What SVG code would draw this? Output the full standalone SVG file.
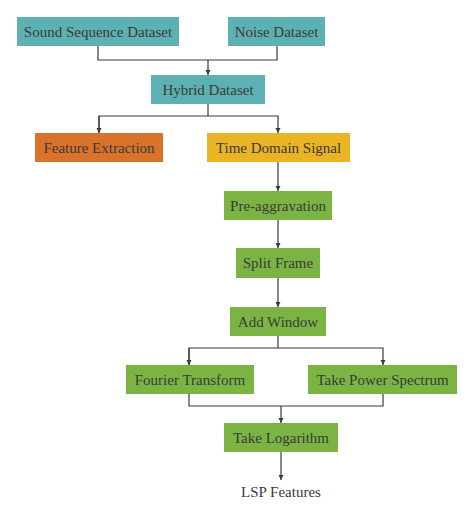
<svg xmlns="http://www.w3.org/2000/svg" width="474" height="519" viewBox="0 0 474 519">
<style>
.t{font-family:"Liberation Serif","Times New Roman",serif;font-size:15px;fill:#3a3a3a;text-anchor:middle}
.teal{fill:#5DB1B2}.orange{fill:#D9732C}.yellow{fill:#EBB425}.green{fill:#7CB444}
.c{fill:none;stroke:#3a3a3a;stroke-width:1.2}
</style>
<defs>
<marker id="a" markerWidth="6" markerHeight="6" refX="5" refY="3" orient="auto" markerUnits="userSpaceOnUse">
<path d="M0,0.5 L5,3 L0,5.5 Z" fill="#3a3a3a"/>
</marker>
</defs>
<rect width="474" height="519" fill="#fff"/>
<g id="connectors">
<path class="c" d="M98,46 V60 H277 V46"/>
<path class="c" d="M208,60 V75" marker-end="url(#a)"/>
<path class="c" d="M208,104 V116"/>
<path class="c" d="M99,133 V116 H278 V133" marker-end="url(#a)"/>
<path class="c" d="M99,116 V133" marker-end="url(#a)"/>
<path class="c" d="M278,162 V191" marker-end="url(#a)"/>
<path class="c" d="M278,220 V248" marker-end="url(#a)"/>
<path class="c" d="M278,278 V307" marker-end="url(#a)"/>
<path class="c" d="M278,336 V348"/>
<path class="c" d="M189,365 V348 H383 V365" marker-end="url(#a)"/>
<path class="c" d="M189,348 V365" marker-end="url(#a)"/>
<path class="c" d="M189,394 V406 H383 V394"/>
<path class="c" d="M281,406 V423" marker-end="url(#a)"/>
<path class="c" d="M281,452 V480" marker-end="url(#a)"/>
</g>
<g id="sound"><rect class="teal" x="17" y="17" width="162" height="29"/><text class="t" x="98" y="37">Sound Sequence Dataset</text></g>
<g id="noise"><rect class="teal" x="228" y="17" width="97" height="29"/><text class="t" x="276.5" y="37">Noise Dataset</text></g>
<g id="hybrid"><rect class="teal" x="151" y="75" width="114" height="29"/><text class="t" x="208" y="95">Hybrid Dataset</text></g>
<g id="feature"><rect class="orange" x="35" y="133" width="128" height="29"/><text class="t" x="99" y="153">Feature Extraction</text></g>
<g id="timedomain"><rect class="yellow" x="207" y="133" width="143" height="29"/><text class="t" x="278.5" y="153">Time Domain Signal</text></g>
<g id="preagg"><rect class="green" x="224" y="191" width="108" height="29"/><text class="t" x="278" y="211">Pre-aggravation</text></g>
<g id="split"><rect class="green" x="236" y="248" width="84" height="30"/><text class="t" x="278" y="268">Split Frame</text></g>
<g id="window"><rect class="green" x="230" y="307" width="96" height="29"/><text class="t" x="278" y="327">Add Window</text></g>
<g id="fourier"><rect class="green" x="126" y="365" width="128" height="29"/><text class="t" x="190" y="385">Fourier Transform</text></g>
<g id="power"><rect class="green" x="308" y="365" width="149" height="29"/><text class="t" x="382.5" y="385">Take Power Spectrum</text></g>
<g id="log"><rect class="green" x="224" y="423" width="114" height="29"/><text class="t" x="281" y="443">Take Logarithm</text></g>
<g id="lsp"><text class="t" x="281" y="497">LSP Features</text></g>
</svg>
